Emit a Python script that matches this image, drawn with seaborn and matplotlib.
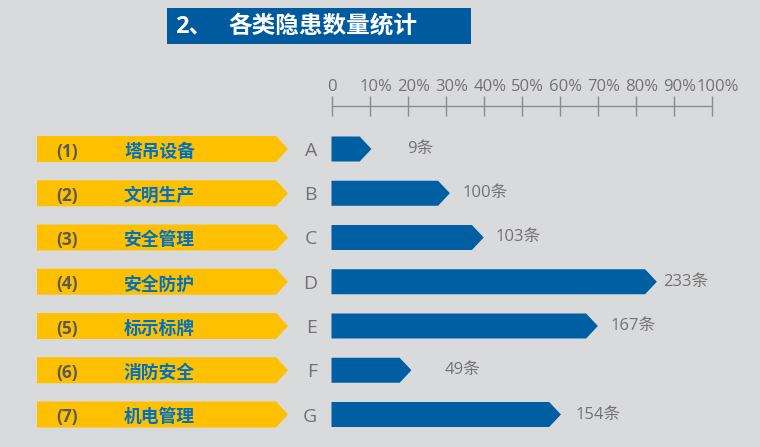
import matplotlib
matplotlib.use("Agg")
import matplotlib.pyplot as plt
import matplotlib.transforms as mtransforms
from matplotlib.patches import Polygon, Rectangle
import pandas as pd
import seaborn as sns

# ---------------- data ----------------
title_num = "2、"
title_text = "各类隐患数量统计"
item_nums = ["(1)", "(2)", "(3)", "(4)", "(5)", "(6)", "(7)"]
item_names = ["塔吊设备", "文明生产", "安全管理", "安全防护", "标示标牌", "消防安全", "机电管理"]
letters = ["A", "B", "C", "D", "E", "F", "G"]
counts = [9, 100, 103, 233, 167, 49, 154]
bar_pct = [10.5, 31.1, 40.0, 85.5, 70.0, 21.0, 60.3]
tick_vals = [0, 10, 20, 30, 40, 50, 60, 70, 80, 90, 100]
tick_labels = ["0", "10%", "20%", "30%", "40%", "50%", "60%", "70%", "80%", "90%", "100%"]
label_gap_px = [36, 13, 12, 6, 13, 33, 15]

# ---------------- style ----------------
W, H, DPI = 760, 447, 100
BG = "#D9DADC"
BAR_BLUE = "#005EA3"
TITLE_BLUE = "#005A9E"
YELLOW = "#FFC000"
NAME_BLUE = "#0070C0"
GRAY = "#767171"
DARKGRAY = "#595959"
LAT = ["Open Sans", "Noto Sans CJK SC", "DejaVu Sans"]
CJK = ["Noto Sans CJK SC", "DejaVu Sans"]

sns.set_theme(style="white")
plt.rcParams["font.family"] = LAT

fig = plt.figure(figsize=(W / DPI, H / DPI), dpi=DPI, facecolor=BG)

x0_px, x100_px = 331.5, 712.0
ppu = (x100_px - x0_px) / 100.0          # pixels per percent
c0_px, step_px = 149.0, 44.25            # first row centre, row spacing

# main axes (bars)
ax = fig.add_axes([x0_px / W, 0, 1 - x0_px / W, 1])
ax.set_facecolor("none")
df = pd.DataFrame({"letter": letters, "pct": bar_pct, "count": counts})
bar_h = 25.0 / step_px
sns.barplot(data=df, x="pct", y="letter", orient="h", color=BAR_BLUE,
            width=bar_h, saturation=1, ax=ax, errorbar=None)
ax.set_xlim(0, (W - x0_px) / ppu)
ax.set_ylim((H - c0_px) / step_px, -c0_px / step_px)

tip_px = 11.75
tip = tip_px / ppu
for p in list(ax.patches):
    x, y, w, h = p.get_x(), p.get_y(), p.get_width(), p.get_height()
    p.remove()
    poly = Polygon([(x, y), (x + w - tip, y), (x + w, y + h / 2),
                    (x + w - tip, y + h), (x, y + h)],
                   closed=True, facecolor=BAR_BLUE, edgecolor="none", clip_on=False)
    ax.add_patch(poly)

for s in ax.spines.values():
    s.set_visible(False)
ax.set_xlabel("")
ax.set_ylabel("")
ax.set_xticks([])
ax.tick_params(axis="y", length=0, pad=10.5, labelsize=14, labelcolor=GRAY)
for lbl in ax.get_yticklabels():
    lbl.set_family(LAT)

# value labels
for i, (v, c) in enumerate(zip(bar_pct, counts)):
    ax.annotate(f"{c}条", xy=(v, i), xytext=(label_gap_px[i] * 72 / DPI, 0),
                textcoords="offset points", ha="left", va="center",
                fontsize=12, color=GRAY, family=LAT, annotation_clip=False)

# yellow arrow labels
bt = mtransforms.blended_transform_factory(fig.transFigure, ax.transData)
yl, yr, yt = 37 / W, 276 / W, 288 / W
hh = 13.0 / step_px
for i in range(len(letters)):
    ax.add_patch(Polygon([(yl, i - hh), (yr, i - hh), (yt, i), (yr, i + hh), (yl, i + hh)],
                         closed=True, facecolor=YELLOW, edgecolor="none",
                         transform=bt, clip_on=False, zorder=1))
    ax.text(67.5 / W, i + 0.06, item_nums[i], transform=bt, ha="center", va="center",
            fontsize=12.5, fontweight="bold", color=DARKGRAY, family=LAT)
    ax.text(159.5 / W, i + 0.06, item_names[i], transform=bt, ha="center", va="center",
            fontsize=12.8, fontweight="bold", color=NAME_BLUE, family=CJK)

# top percentage scale
line_y = 105.7
sc = fig.add_axes([x0_px / W, 1 - line_y / H - 0.02, (x100_px - x0_px) / W, 0.02])
sc.set_facecolor("none")
sc.set_xlim(0, 100)
sc.set_yticks([])
for k, s in sc.spines.items():
    s.set_visible(k == "top")
sc.spines["top"].set_color("#8C8C8C")
sc.spines["top"].set_linewidth(1.0)
sc.xaxis.tick_top()
sc.set_xticks(tick_vals)
sc.set_xticklabels(tick_labels)
sc.tick_params(axis="x", direction="inout", length=14.4, width=1.0, color="#8C8C8C",
               pad=0.5, labelsize=12, labelcolor=GRAY)
shift = mtransforms.ScaledTranslation(6 / DPI, 0, fig.dpi_scale_trans)
for lbl in sc.get_xticklabels():
    lbl.set_family(LAT)
    if "%" in lbl.get_text():
        lbl.set_transform(lbl.get_transform() + shift)

# title box
fig.patches.append(Rectangle((167 / W, 1 - 44 / H), 304 / W, 36 / H,
                             transform=fig.transFigure, facecolor=TITLE_BLUE,
                             edgecolor="none", zorder=0))
fig.text(175 / W, 1 - 26 / H, title_num, ha="left", va="center", fontsize=17,
         fontweight="bold", color="white", family=LAT)
fig.text(228 / W, 1 - 26 / H, title_text, ha="left", va="center", fontsize=17,
         fontweight="bold", color="white", family=CJK)

fig.savefig("out.png", dpi=DPI, facecolor=BG)
